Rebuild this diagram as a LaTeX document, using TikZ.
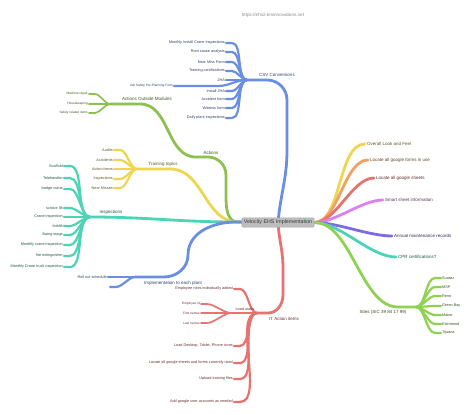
\documentclass[tikz,border=0pt]{standalone}
\usepackage{fontspec}
\setmainfont{Liberation Sans}
\usepackage{tikz}
\usetikzlibrary{backgrounds}
\definecolor{csvblue}{HTML}{6A8EE2}
\definecolor{actgreen}{HTML}{8CC152}
\definecolor{trainyellow}{HTML}{EED64E}
\definecolor{insteal}{HTML}{4DD4B4}
\definecolor{itred}{HTML}{E8726F}
\definecolor{lookyellow}{HTML}{EFD553}
\definecolor{formorange}{HTML}{F2A161}
\definecolor{sheetred}{HTML}{E47470}
\definecolor{smartpink}{HTML}{DC82EA}
\definecolor{annualpurple}{HTML}{7E6AE2}
\definecolor{cprteal}{HTML}{4DD3B7}
\definecolor{sitegreen}{HTML}{8FD151}
\definecolor{rootgray}{HTML}{BDBDBD}
\definecolor{textdark}{HTML}{3A3A3A}
\tikzset{
  branch/.style={line width=2.8pt, line cap=round},
  twig/.style={line width=2.2pt, line cap=round},
  sprig/.style={line width=1.7pt, line cap=round},
  leaf/.style={inner sep=1pt, font=\fontsize{3.8}{4.3}\selectfont},
  tinyleaf/.style={inner sep=1pt, font=\fontsize{3.2}{3.7}\selectfont},
  hubtxt/.style={inner sep=1pt, font=\fontsize{4.5}{5}\selectfont},
  rootbox/.style={rectangle, rounded corners=1pt, draw=black!35, fill=rootgray, line width=0.4pt, inner xsep=2pt, inner ysep=2.2pt, text=textdark, font=\fontsize{5.3}{6}\selectfont},
}

\begin{document}
\begin{tikzpicture}[x=1pt, y=-1pt,
    rightlbl/.style={inner sep=2pt, anchor=west, font=\fontsize{4.5}{5}\selectfont},
    fan/.style={out=0, in=180, looseness=0.7}]

  \begin{scope}[on background layer]
    \fill[white] (0,0) rectangle (474,415);
  \end{scope}
  \useasboundingbox (0,0) rectangle (474,415);

  \node[rootbox] (root) at (278,222.5) {Velocity EHS Implementation};
  \node[hubtxt, font=\fontsize{4.6}{5}\selectfont, text=black!45] (url) at (273,15) {https://ehs2.kminnovations.net};

  % CSV Conversions
  \coordinate (csvhub) at (247,80);
  \node[hubtxt, text=csvblue!45!black] (csv) at (277,75) {CSV Conversions};
  \foreach \i/\y/\t in {1/43/{Monthly Install Crane Inspections}, 2/52/{Root cause analysis}, 3/62/{Near Miss Form},
      4/71/{Training certifications}, 5/80/JHA, 6/91/{Install JHA}, 7/99/{Accident form}, 8/108/{Witness form},
      9/118/{Daily plant inspections}} {
    \node[leaf, anchor=east, text=csvblue!45!black] (csv\i) at (226,\y) {\t};
  }
  \node[tinyleaf, anchor=east, text=csvblue!45!black] (jsp) at (174,86) {Job Safety Pre-Planning Form};

  % Actions
  \coordinate (aomhub) at (110,104);
  \node[hubtxt, text=actgreen!45!black] (act) at (211,153) {Actions};
  \node[hubtxt, text=actgreen!45!black] (aom) at (147,99) {Actions Outside Modules};
  \foreach \i/\y/\t in {1/94/{Machine repair}, 2/104/Housekeeping, 3/113/{Safety related items}} {
    \node[tinyleaf, anchor=east, text=actgreen!45!black] (aom\i) at (89,\y) {\t};
  }

  % Training topics
  \coordinate (trhub) at (137,169);
  \node[hubtxt, text=trainyellow!40!black] (tr) at (163,164) {Training topics};
  \foreach \i/\y/\t in {1/150/Audits, 2/160/Accidents, 3/169/{Action items}, 4/179/Inspections, 5/188/{Near Misses}} {
    \node[leaf, anchor=east, text=trainyellow!40!black] (tr\i) at (114,\y) {\t};
  }

  % Inspections
  \coordinate (inshub) at (90,217);
  \node[hubtxt, text=insteal!40!black] (ins) at (111,212) {Inspections};
  \foreach \i/\y/\t in {1/166/Scaffold, 2/178/Telehandler, 3/189/{bridge crane}, 4/208/{scissor lift},
      5/217/{Crane inspection}, 6/226/forklift, 7/235/{Swing stage}, 8/245/{Monthly crane inspection},
      9/256/{fire extinguisher}, 10/267/{Monthly Crane truck inspection}} {
    \node[leaf, anchor=east, text=insteal!40!black] (ins\i) at (64,\y) {\t};
  }

  % Implementation to each plant
  \coordinate (implhub) at (135,277);
  \coordinate (blank) at (110,287);
  \node[hubtxt, text=csvblue!45!black] (impl) at (173,283) {Implementation to each plant};
  \node[leaf, anchor=east, text=csvblue!45!black] (roll) at (108,277) {Roll out schedule};

  % IT Action items
  \coordinate (ithub) at (257,313);
  \coordinate (luhub) at (231,313);
  \node[hubtxt, text=itred!45!black] (it) at (284,319) {IT Action items};
  \node[leaf, text=itred!45!black] (lu) at (245,309) {Load users};
  \foreach \i/\y/\t in {1/289/{Employee roles individually added}, 2/346/{Load Desktop, Tablet, Phone icons},
      3/363/{Locate all google sheets and forms currently used}, 4/379/{Upload training files},
      5/402/{Add google user accounts as needed}} {
    \node[leaf, anchor=east, text=itred!45!black] (it\i) at (234,\y) {\t};
  }
  \foreach \i/\y/\t in {1/304/{Employee id}, 2/313/{First names}, 3/323/{Last names}} {
    \node[tinyleaf, anchor=east, text=itred!45!black] (lu\i) at (201,\y) {\t};
  }

  % Right side topics
  \foreach \n/\c/\x/\y/\t in {look/lookyellow/365/144/{Overall Look and Feel}, forms/formorange/368/160/{Locate all google forms in use},
      sheets/sheetred/374/178/{Locate all google sheets}, smart/smartpink/383/200/{Smart sheet information},
      annual/annualpurple/392/236/{Annual maintenance records}, cpr/cprteal/396/257/{CPR certifications?}} {
    \node[rightlbl, text=\c!40!black] (\n) at (\x,\y) {\t};
  }

  % Sites
  \coordinate (sitehub) at (416,307);
  \node[hubtxt, text=sitegreen!40!black] (sites) at (383,312) {Sites (SIC 39 84 17 99)};
  \foreach \i/\y/\t in {1/278/Suarez, 2/287/MSP, 3/296/Reno, 4/306/{Green Bay}, 5/315/Maine, 6/324/Richmond, 7/333/Tijuana} {
    \node[leaf, anchor=west, text=sitegreen!40!black] (s\i) at (441,\y) {\t};
  }

  \begin{scope}[on background layer]
    % Trunks
    \draw[branch, csvblue] (root.center) to[out=85,in=-90] (287,150) -- (287,100) to[out=90,in=0] (267,80) -- (csvhub);
    \draw[branch, actgreen] (root.center) -- (238,222) to[out=180,in=-90] (226,196) -- (226,175) to[out=90,in=0] (208,157)
      -- (196,157) to[out=180,in=0] (140,104) -- (aomhub);
    \draw[branch, trainyellow] (root.center) -- (238,222) to[out=180,in=0] (170,169) -- (trhub);
    \draw[branch, insteal] (root.center) -- (236,222) to[out=180,in=0] (inshub);
    \draw[branch, csvblue] (root.center) -- (236,222) to[out=180,in=90] (188,255) to[out=-90,in=0] (164,277) -- (implhub);
    \draw[branch, itred] (root.center) to[out=-87,in=90] (283,268) -- (283,295) to[out=-90,in=0] (268,313) -- (ithub);
    \foreach \n/\c in {look/lookyellow, forms/formorange, sheets/sheetred, smart/smartpink, annual/annualpurple, cpr/cprteal} {
      \draw[branch, \c] (root.center) -- (root.east) to[out=0,in=180,looseness=0.75] (\n.west);
    }
    \draw[branch, sitegreen] (root.center) -- (root.east) to[out=0,in=180,looseness=0.8] (398,307) -- (sitehub);

    % Children
    \foreach \i in {1,...,9} {
      \draw[twig, csvblue] (csv\i.east) -- ++(6,0) to[fan] (csvhub);
    }
    \draw[twig, csvblue] (jsp.east) -- ++(44,0) to[out=0,in=180] (csvhub);
    \foreach \i in {1,2,3} {
      \draw[sprig, actgreen] (aom\i.east) -- ++(6,0) to[fan] (aomhub);
    }
    \foreach \i in {1,...,5} {
      \draw[twig, trainyellow] (tr\i.east) -- ++(6,0) to[fan] (trhub);
    }
    \foreach \i in {1,...,10} {
      \draw[twig, insteal] (ins\i.east) -- ++(6,0) to[fan] (inshub);
    }
    \draw[twig, csvblue] (roll.east) -- (implhub);
    \draw[twig, csvblue] (blank) -- ++(6,0) to[fan] (implhub);
    \foreach \i in {1,...,5} {
      \draw[twig, itred] (it\i.east) -- ++(6,0) to[fan] (ithub);
    }
    \draw[twig, itred] (luhub) -- (ithub);
    \foreach \i in {1,2,3} {
      \draw[sprig, itred] (lu\i.east) -- ++(6,0) to[fan] (luhub);
    }
    \foreach \i in {1,...,7} {
      \draw[twig, sitegreen] (sitehub) to[fan] ([xshift=-6pt]s\i.west) -- (s\i.west);
    }
  \end{scope}
\end{tikzpicture}
\end{document}
